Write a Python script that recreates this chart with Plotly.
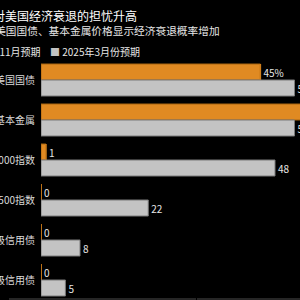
import plotly.graph_objects as go

categories = ["美国国债", "基本金属", "罗素2000指数", "标普500指数", "投资级信用债", "投机级信用债"]
nov_2024 = [45, 60, 1, 0, 0, 0]
mar_2025 = [52, 52, 48, 22, 8, 5]
series_names = ["2024年11月预期", "2025年3月份预期"]

title = "投资者对美国经济衰退的担忧升高"
subtitle = "罗素2000指数、美国国债、基本金属价格显示经济衰退概率增加"

ORANGE = "#E08A22"
GRAY = "#C3C3C3"
FONT = "Noto Sans CJK SC"

W, H = 300, 300
ML, MR, MT, MB = 41, 0, 60, 0
PW, PH = W - ML - MR, H - MT - MB
PX_PER_UNIT = 4.875


def px(p):
    return (p - ML) / PW


def py(p):
    return (H - MB - p) / PH


nov_text = [f"{v}%" if i == 0 else str(v) for i, v in enumerate(nov_2024)]
mar_text = [str(v) for v in mar_2025]

fig = go.Figure()
fig.add_trace(go.Bar(
    y=categories, x=nov_2024, orientation="h", name=series_names[0],
    marker=dict(color=ORANGE, line=dict(color="#A8650F", width=1)),
    error_x=dict(type="constant", value=0, width=8, thickness=1.5, color="#D07F1C"),
    text=nov_text, textposition="outside", cliponaxis=False,
    textfont=dict(color="#E6E6E6", size=10, family=FONT),
))
fig.add_trace(go.Bar(
    y=categories, x=mar_2025, orientation="h", name=series_names[1],
    marker=dict(color=GRAY, line=dict(color="#7A7A7A", width=1)),
    text=mar_text, textposition="outside", cliponaxis=False,
    textfont=dict(color="#E6E6E6", size=10, family=FONT),
))

annotations = [
    dict(text=title, x=px(139), y=py(15.5), xref="paper", yref="paper",
         xanchor="right", yanchor="middle", showarrow=False,
         font=dict(color="#FFFFFF", size=12, family=FONT)),
    dict(text=subtitle, x=px(222), y=py(30), xref="paper", yref="paper",
         xanchor="right", yanchor="middle", showarrow=False,
         font=dict(color="#E6E6E6", size=10.7, family=FONT)),
    dict(text=f"<span style='color:{ORANGE}'>■</span> {series_names[0]}",
         x=px(43), y=py(52), xref="paper", yref="paper",
         xanchor="right", yanchor="middle", showarrow=False,
         font=dict(color="#E6E6E6", size=10, family=FONT)),
    dict(text=f"<span style='color:{GRAY}'>■</span> {series_names[1]}",
         x=px(48), y=py(52), xref="paper", yref="paper",
         xanchor="left", yanchor="middle", showarrow=False,
         font=dict(color="#E6E6E6", size=10, family=FONT)),
]

fig.update_layout(
    width=W, height=H,
    margin=dict(l=ML, r=MR, t=MT, b=MB, pad=0),
    paper_bgcolor="#000000", plot_bgcolor="#000000",
    barmode="group", bargap=0.2, bargroupgap=0,
    showlegend=False,
    annotations=annotations,
    font=dict(family=FONT, color="#E0E0E0", size=10),
    xaxis=dict(range=[0, PW / PX_PER_UNIT], visible=False, fixedrange=True),
    yaxis=dict(autorange="reversed", showgrid=False, zeroline=False,
               showline=False, ticks="", ticklabelstandoff=5,
               tickfont=dict(color="#DADADA", size=10, family=FONT),
               automargin=False),
    shapes=[
        dict(type="line", xref="paper", yref="paper", x0=px(9), x1=px(196),
             y0=py(299), y1=py(299), line=dict(color="#262626", width=2)),
        dict(type="line", xref="paper", yref="paper", x0=px(197), x1=px(300),
             y0=py(299), y1=py(299), line=dict(color="#262626", width=2)),
    ],
)

fig.write_html("out.html", config={"displayModeBar": False})
